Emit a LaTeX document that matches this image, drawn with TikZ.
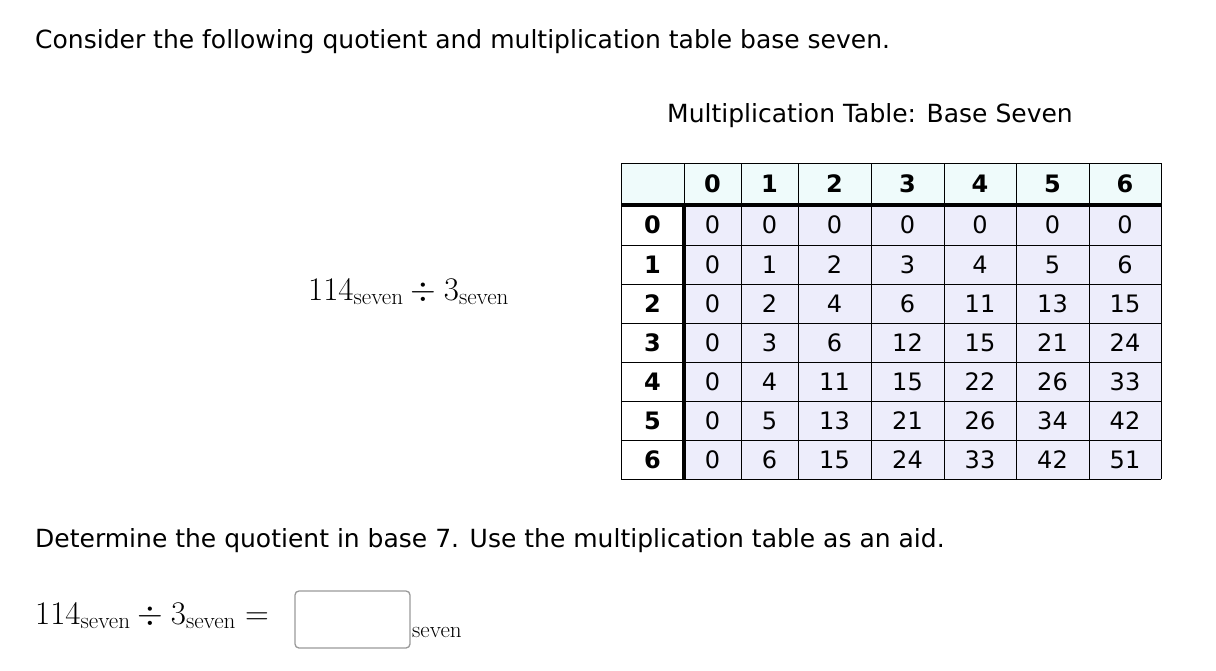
\documentclass[tikz,border=0pt]{standalone}
\usepackage{fix-cm}
\usepackage{fontspec}
\setsansfont{DejaVu Sans}
\usepackage{amsmath}
\definecolor{hdr}{HTML}{EFFBFB}
\definecolor{body}{HTML}{EDEDFB}
\begin{document}
\begin{tikzpicture}[x=1pt,y=-1pt,
  txt/.style={font=\sffamily\fontsize{25}{30}\selectfont,anchor=base west,inner sep=0},
  cell/.style={font=\sffamily\fontsize{24}{28}\selectfont,inner sep=0},
  hcell/.style={cell,font=\sffamily\bfseries\fontsize{24}{28}\selectfont},
  mth/.style={font=\fontsize{33}{38}\selectfont,inner sep=0}]
\useasboundingbox (0,0) rectangle (1216,670);
\node[txt] (title) at (35,48) {Consider the following quotient and multiplication table base seven.};
\node[txt,anchor=base] (ttl) at (870,122) {Multiplication Table: Base Seven};
\def\xs{{621,684,741,798,871,944,1016,1089,1161}}
\def\ys{{163,205,245,284,323,362,401,440,479}}
\fill[hdr] (621,163) rectangle (1161,205);
\fill[body] (684,205) rectangle (1161,479);
\fill[white] (621,205) rectangle (684,479);
\foreach \i in {0,...,8}{\pgfmathsetmacro\xx{\xs[\i]}\draw[line width=1pt] (\xx,163) -- (\xx,479);}
\foreach \j in {0,...,8}{\pgfmathsetmacro\yy{\ys[\j]}\draw[line width=1pt] (621,\yy) -- (1161,\yy);}
\draw[line width=4pt] (621,205) -- (1161,205);
\draw[line width=4pt] (684,205) -- (684,479);
\foreach \c in {0,...,6}{
  \pgfmathsetmacro\xa{\xs[\c+1]}\pgfmathsetmacro\xb{\xs[\c+2]}
  \node[hcell] (h\c) at ({(\xa+\xb)/2},184) {\c};
  \pgfmathsetmacro\ya{\ys[\c+1]}\pgfmathsetmacro\yb{\ys[\c+2]}
  \node[hcell] (r\c) at (652.5,{(\ya+\yb)/2}) {\c};
}
\foreach \row [count=\r from 0] in {{0,0,0,0,0,0,0},{0,1,2,3,4,5,6},{0,2,4,6,11,13,15},{0,3,6,12,15,21,24},{0,4,11,15,22,26,33},{0,5,13,21,26,34,42},{0,6,15,24,33,42,51}}{
  \foreach \v [count=\c from 0] in \row {
    \pgfmathsetmacro\xa{\xs[\c+1]}\pgfmathsetmacro\xb{\xs[\c+2]}
    \pgfmathsetmacro\ya{\ys[\r+1]}\pgfmathsetmacro\yb{\ys[\r+2]}
    \node[cell] (c\r\c) at ({(\xa+\xb)/2},{(\ya+\yb)/2}) {\v};
  }
}
\node[mth,anchor=base west] (expr) at (308,300) {$114_{\text{seven}}\div 3_{\text{seven}}$};
\node[txt] (det) at (35,547) {Determine the quotient in base 7. Use the multiplication table as an aid.};
\node[mth,anchor=base west] (eq) at (35,624) {$114_{\text{seven}}\div 3_{\text{seven}} =$};
\node[draw=gray!80,rounded corners=4pt,line width=1.3pt,minimum width=115pt,minimum height=57pt,inner sep=0] (box) at (352.5,619.5) {};
\node[mth,anchor=base west] (sev) at (412,633) {$_{\text{seven}}$};
\end{tikzpicture}
\end{document}
